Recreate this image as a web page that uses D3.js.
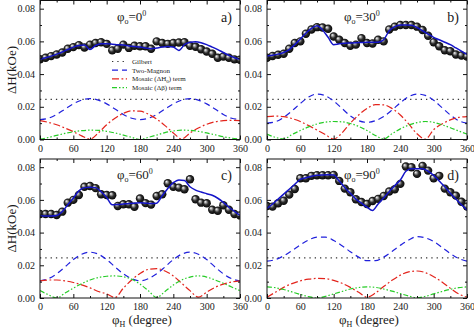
<!DOCTYPE html>
<html>
<head>
<meta charset="utf-8">
<script src="https://cdn.jsdelivr.net/npm/d3@7"></script>
<style>
  body { margin: 0; background: #fff; }
  svg { display: block; }
  text { font-family: "Liberation Serif", "Times New Roman", serif; fill: #1a1a1a; }
</style>
</head>
<body>
<svg id="chart" width="474" height="332"></svg>
<script>
// field angles for measured points / fit, and for the model components
const phiPts = [0,10,20,30,40,50,60,70,80,90,100,110,120,130,140,150,160,170,180,190,200,210,220,230,240,250,260,270,280,290,300,310,320,330,340,350,360]
const phiComp = [0,15,30,45,60,75,90,105,120,135,150,165,180,195,210,225,240,255,270,285,300,315,330,345,360]
const xTicks = [0, 60, 120, 180, 240, 300, 360]
const yTicks = [0, 0.02, 0.04, 0.06, 0.08]
const gilbert = 0.0245

// phi_o = 0
const ptsA = [0.0491,0.0500,0.0510,0.0520,0.0532,0.0555,0.0565,0.0577,0.0563,0.0580,0.0590,0.0595,0.0585,0.0545,0.0555,0.0580,0.0560,0.0573,0.0570,0.0570,0.0555,0.0600,0.0590,0.0585,0.0590,0.0593,0.0595,0.0573,0.0567,0.0552,0.0538,0.0524,0.0500,0.0507,0.0500,0.0490,0.0488]
const fitA = [0.0490,0.0500,0.0510,0.0522,0.0535,0.0550,0.0565,0.0575,0.0578,0.0550,0.0575,0.0585,0.0585,0.0583,0.0580,0.0578,0.0572,0.0568,0.0565,0.0560,0.0555,0.0560,0.0565,0.0568,0.0565,0.0545,0.0580,0.0595,0.0598,0.0592,0.0580,0.0565,0.0550,0.0532,0.0515,0.0500,0.0490]
const magA = [0.0122,0.0130,0.0153,0.0186,0.0218,0.0241,0.0250,0.0241,0.0218,0.0186,0.0153,0.0130,0.0122,0.0130,0.0153,0.0186,0.0218,0.0241,0.0250,0.0241,0.0218,0.0186,0.0153,0.0130,0.0122]
const dh0A = [0.0115,0.0105,0.0090,0.0070,0.0048,0.0022,0.0002,0.0040,0.0090,0.0130,0.0160,0.0175,0.0173,0.0155,0.0125,0.0085,0.0040,0.0003,0.0040,0.0070,0.0093,0.0108,0.0115,0.0117,0.0115]
const dbA = [0.0002,0.0012,0.0025,0.0037,0.0047,0.0054,0.0057,0.0056,0.0050,0.0040,0.0027,0.0013,0.0000,0.0013,0.0027,0.0042,0.0052,0.0057,0.0056,0.0050,0.0040,0.0029,0.0017,0.0008,0.0002]

// phi_o = 30
const ptsB = [0.0500,0.0511,0.0518,0.0524,0.0555,0.0590,0.0600,0.0647,0.0673,0.0687,0.0685,0.0677,0.0630,0.0610,0.0590,0.0573,0.0580,0.0620,0.0590,0.0587,0.0610,0.0600,0.0673,0.0690,0.0700,0.0700,0.0700,0.0690,0.0670,0.0634,0.0595,0.0570,0.0546,0.0540,0.0520,0.0514,0.0507]
const fitB = [0.0510,0.0515,0.0522,0.0532,0.0550,0.0580,0.0615,0.0650,0.0680,0.0695,0.0670,0.0625,0.0580,0.0585,0.0588,0.0590,0.0592,0.0593,0.0594,0.0594,0.0595,0.0610,0.0665,0.0690,0.0700,0.0700,0.0698,0.0685,0.0665,0.0645,0.0625,0.0610,0.0595,0.0580,0.0560,0.0540,0.0520]
const magB = [0.0100,0.0108,0.0135,0.0175,0.0220,0.0260,0.0278,0.0268,0.0235,0.0190,0.0145,0.0115,0.0105,0.0115,0.0140,0.0180,0.0225,0.0262,0.0278,0.0270,0.0240,0.0195,0.0150,0.0115,0.0100]
const dh0B = [0.0140,0.0143,0.0140,0.0128,0.0110,0.0085,0.0058,0.0030,0.0003,0.0040,0.0100,0.0150,0.0190,0.0213,0.0212,0.0190,0.0150,0.0095,0.0035,0.0002,0.0060,0.0095,0.0120,0.0135,0.0140]
const dbB = [0.0033,0.0013,0.0004,0.0030,0.0055,0.0077,0.0095,0.0106,0.0110,0.0108,0.0098,0.0080,0.0055,0.0025,0.0003,0.0035,0.0065,0.0088,0.0103,0.0110,0.0105,0.0090,0.0072,0.0052,0.0033]

// phi_o = 60
const ptsC = [0.0514,0.0514,0.0514,0.0508,0.0528,0.0583,0.0600,0.0630,0.0680,0.0685,0.0672,0.0634,0.0630,0.0628,0.0563,0.0573,0.0573,0.0558,0.0608,0.0580,0.0571,0.0624,0.0634,0.0702,0.0680,0.0675,0.0665,0.0726,0.0604,0.0583,0.0579,0.0540,0.0534,0.0567,0.0540,0.0514,0.0505]
const fitC = [0.0502,0.0502,0.0502,0.0505,0.0528,0.0570,0.0610,0.0655,0.0675,0.0678,0.0675,0.0650,0.0615,0.0570,0.0572,0.0575,0.0578,0.0580,0.0582,0.0580,0.0578,0.0580,0.0625,0.0670,0.0705,0.0722,0.0718,0.0680,0.0660,0.0648,0.0638,0.0628,0.0610,0.0585,0.0555,0.0530,0.0505]
const magC = [0.0105,0.0118,0.0148,0.0190,0.0235,0.0268,0.0280,0.0268,0.0235,0.0190,0.0148,0.0118,0.0105,0.0118,0.0148,0.0190,0.0235,0.0268,0.0280,0.0268,0.0235,0.0190,0.0148,0.0118,0.0105]
const dh0C = [0.0105,0.0110,0.0110,0.0105,0.0095,0.0080,0.0062,0.0040,0.0025,0.0003,0.0060,0.0110,0.0150,0.0175,0.0180,0.0165,0.0135,0.0090,0.0045,0.0005,0.0035,0.0065,0.0085,0.0098,0.0105]
const dbC = [0.0045,0.0020,0.0000,0.0030,0.0060,0.0088,0.0110,0.0125,0.0133,0.0135,0.0130,0.0115,0.0085,0.0045,0.0003,0.0040,0.0080,0.0110,0.0128,0.0135,0.0128,0.0110,0.0090,0.0067,0.0045]

// phi_o = 90
const ptsD = [0.0563,0.0559,0.0579,0.0595,0.0632,0.0667,0.0732,0.0732,0.0747,0.0751,0.0751,0.0751,0.0753,0.0716,0.0669,0.0647,0.0604,0.0587,0.0575,0.0593,0.0606,0.0624,0.0651,0.0665,0.0698,0.0804,0.0800,0.0759,0.0808,0.0779,0.0732,0.0747,0.0669,0.0647,0.0626,0.0589,0.0559]
const fitD = [0.0548,0.0575,0.0605,0.0635,0.0665,0.0695,0.0725,0.0735,0.0745,0.0750,0.0752,0.0753,0.0752,0.0715,0.0675,0.0640,0.0605,0.0580,0.0555,0.0535,0.0575,0.0612,0.0650,0.0688,0.0722,0.0775,0.0790,0.0790,0.0790,0.0775,0.0750,0.0715,0.0680,0.0640,0.0605,0.0570,0.0538]
const magD = [0.0225,0.0235,0.0258,0.0290,0.0325,0.0355,0.0372,0.0372,0.0352,0.0320,0.0283,0.0250,0.0228,0.0228,0.0250,0.0285,0.0322,0.0355,0.0375,0.0368,0.0345,0.0310,0.0272,0.0242,0.0225]
const dh0D = [0.0005,0.0035,0.0065,0.0088,0.0105,0.0115,0.0120,0.0118,0.0108,0.0090,0.0065,0.0035,0.0005,0.0030,0.0070,0.0108,0.0140,0.0160,0.0165,0.0155,0.0130,0.0098,0.0060,0.0025,0.0005]
const dbD = [0.0068,0.0063,0.0052,0.0037,0.0022,0.0008,0.0000,0.0010,0.0025,0.0040,0.0055,0.0064,0.0068,0.0065,0.0055,0.0042,0.0027,0.0012,0.0002,0.0010,0.0025,0.0040,0.0053,0.0063,0.0068]

const panels = [
    {tag: 'a)', phi0: '0', left: 40, top: 0.5, pts: ptsA, fit: fitA, mag: magA, dh0: dh0A, db: dbA, legend: true},
    {tag: 'b)', phi0: '30', left: 267, top: 0.5, pts: ptsB, fit: fitB, mag: magB, dh0: dh0B, db: dbB},
    {tag: 'c)', phi0: '60', left: 40, top: 159, pts: ptsC, fit: fitC, mag: magC, dh0: dh0C, db: dbC, xlabel: true},
    {tag: 'd)', phi0: '90', left: 267, top: 159, pts: ptsD, fit: fitD, mag: magD, dh0: dh0D, db: dbD, xlabel: true}
]

const W = 200, H = 139
const styles = {
    fit:  {color: '#1414c8', width: 1.5, dash: null},
    gil:  {color: '#333333', width: 1.2, dash: '1.3,4'},
    mag:  {color: '#2020dc', width: 1.2, dash: '6,4'},
    dh0:  {color: '#e3241c', width: 1.2, dash: '7,2.5,1.8,2.5'},
    db:   {color: '#26cc26', width: 1.2, dash: '5,2,1.5,2,1.5,2'}
}
const serif = '"Liberation Serif", "Times New Roman", serif'

const svg = d3.select('#chart')
const defs = svg.append('defs')
const ball = defs.append('radialGradient').attr('id', 'ball')
    .attr('cx', '50%').attr('cy', '50%').attr('r', '55%')
    .attr('fx', '32%').attr('fy', '30%')
ball.append('stop').attr('offset', '0%').attr('stop-color', '#ffffff')
ball.append('stop').attr('offset', '20%').attr('stop-color', '#b0b0b0')
ball.append('stop').attr('offset', '52%').attr('stop-color', '#2e2e2e')
ball.append('stop').attr('offset', '100%').attr('stop-color', '#000000')

panels.forEach(p => {
    const g = svg.append('g').attr('transform', `translate(${p.left},${p.top})`)
    const x = d3.scaleLinear().domain([0, 360]).range([0, W])
    const y = d3.scaleLinear().domain([0, 0.085]).range([H, 0])

    const clip = 'clip' + p.tag[0]
    defs.append('clipPath').attr('id', clip)
        .append('rect').attr('width', W).attr('height', H)
    const plot = g.append('g').attr('clip-path', `url(#${clip})`)

    const line = d3.line().x(d => x(d[0])).y(d => y(d[1])).curve(d3.curveMonotoneX)
    const drawLine = (xs, vals, s) => plot.append('path')
        .datum(xs.map((a, i) => [a, vals[i]]))
        .attr('d', line)
        .attr('fill', 'none')
        .attr('stroke', s.color)
        .attr('stroke-width', s.width)
        .attr('stroke-dasharray', s.dash)

    // model contributions
    drawLine([0, 360], [gilbert, gilbert], styles.gil)
    drawLine(phiComp, p.mag, styles.mag)
    drawLine(phiComp, p.dh0, styles.dh0)
    drawLine(phiComp, p.db, styles.db)

    // measured linewidth
    plot.selectAll('circle.pt')
        .data(p.pts)
        .join('circle')
        .attr('class', 'pt')
        .attr('cx', (d, i) => x(phiPts[i]))
        .attr('cy', d => y(d))
        .attr('r', 4.2)
        .attr('fill', 'url(#ball)')

    // total fit
    drawLine(phiPts, p.fit, styles.fit)

    // frame + ticks (inward, mirrored)
    const axB = d3.axisBottom(x).tickValues(xTicks).tickSizeInner(-4).tickSizeOuter(0).tickPadding(5)
    const axT = d3.axisTop(x).tickValues(xTicks).tickSizeInner(-4).tickSizeOuter(0).tickFormat('')
    const axL = d3.axisLeft(y).tickValues(yTicks).tickSizeInner(-4).tickSizeOuter(0).tickPadding(5).tickFormat(d3.format('.2f'))
    const axR = d3.axisRight(y).tickValues(yTicks).tickSizeInner(-4).tickSizeOuter(0).tickFormat('')
    const minX = [30, 90, 150, 210, 270, 330]
    const minY = [0.01, 0.03, 0.05, 0.07]

    g.append('g').attr('transform', `translate(0,${H})`).call(axB)
    g.append('g').call(axT)
    g.append('g').call(axL)
    g.append('g').attr('transform', `translate(${W},0)`).call(axR)
    g.append('g').attr('transform', `translate(0,${H})`)
        .call(d3.axisBottom(x).tickValues(minX).tickSize(-2).tickFormat(''))
    g.append('g').call(d3.axisTop(x).tickValues(minX).tickSize(-2).tickFormat(''))
    g.append('g').call(d3.axisLeft(y).tickValues(minY).tickSize(-2).tickFormat(''))
    g.append('g').attr('transform', `translate(${W},0)`)
        .call(d3.axisRight(y).tickValues(minY).tickSize(-2).tickFormat(''))
    g.selectAll('.domain').remove()
    g.selectAll('.tick line').attr('stroke', '#111')
    g.selectAll('g').attr('font-family', serif)
    g.selectAll('.tick text').attr('font-size', 10).attr('fill', '#1a1a1a')
    g.append('rect').attr('width', W).attr('height', H)
        .attr('fill', 'none').attr('stroke', '#111').attr('stroke-width', 1)

    // title φo = n°
    const t = g.append('text').attr('x', 77).attr('y', 20).attr('font-size', 13)
    t.append('tspan').text('φ')
    t.append('tspan').attr('font-size', 8).attr('dy', 3).text('o')
    t.append('tspan').attr('dy', -3).text('=' + p.phi0)
    t.append('tspan').attr('font-size', 8).attr('dy', -5).text('0')
    g.append('text').attr('x', 192).attr('y', 21).attr('text-anchor', 'end')
        .attr('font-size', 14).text(p.tag)

    if (p.legend) {
        const rows = [
            {s: styles.gil, label: ['Gilbert']},
            {s: styles.mag, label: ['Two-Magnon']},
            {s: styles.dh0, label: ['Mosaic (ΔH', '0', ') term']},
            {s: styles.db, label: ['Mosaic (Δβ) term']}
        ]
        const lg = g.append('g').attr('transform', 'translate(72,61)')
        rows.forEach((r, i) => {
            const ry = i * 8.7
            lg.append('line').attr('x1', 0).attr('x2', 15).attr('y1', ry).attr('y2', ry)
                .attr('stroke', r.s.color).attr('stroke-width', r.s.width)
                .attr('stroke-dasharray', r.s.dash)
            const tx = lg.append('text').attr('x', 20).attr('y', ry + 2.5).attr('font-size', 7)
            tx.append('tspan').text(r.label[0])
            if (r.label.length > 1) {
                tx.append('tspan').attr('font-size', 5).attr('dy', 1.5).text(r.label[1])
                tx.append('tspan').attr('dy', -1.5).text(r.label[2])
            }
        })
    }

    // axis titles
    if (p.left < 100) {
        svg.append('text')
            .attr('transform', `translate(16,${p.top + H / 2}) rotate(-90)`)
            .attr('text-anchor', 'middle').attr('font-size', 13)
            .text('ΔH(kOe)')
    }
    if (p.xlabel) {
        const xl = svg.append('text').attr('x', p.left + 102).attr('y', 324)
            .attr('text-anchor', 'middle').attr('font-size', 13)
        xl.append('tspan').text('φ')
        xl.append('tspan').attr('font-size', 8).attr('dy', 3).text('H')
        xl.append('tspan').attr('dy', -3).text(' (degree)')
    }
})
</script>
</body>
</html>
